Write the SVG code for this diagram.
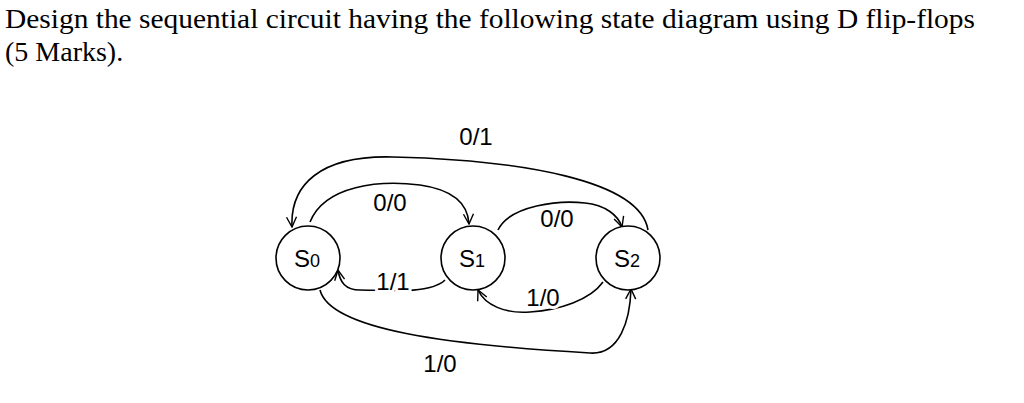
<svg xmlns="http://www.w3.org/2000/svg" width="1024" height="403" viewBox="0 0 1024 403">
<defs>
<marker id="a" viewBox="0 0 12 12" refX="11" refY="6" markerWidth="12" markerHeight="12" orient="auto" markerUnits="userSpaceOnUse">
<path d="M1,1 L11,6 L1,11" fill="none" stroke="#000" stroke-width="1.4"/>
</marker>
<style>
.e{fill:none;stroke:#000;stroke-width:1.6;marker-end:url(#a)}
.n{fill:#fff;stroke:#000;stroke-width:1.6}
.t{font-family:"Liberation Sans",Arial,sans-serif;font-size:24px;fill:#000}
.l{font-family:"Liberation Sans",Arial,sans-serif;font-size:24px;fill:#000;stroke:#fff;stroke-width:6;paint-order:stroke;text-anchor:middle}
.h{font-family:"Liberation Serif","Times New Roman",serif;font-size:28px;fill:#000}
</style>
</defs>
<rect width="1024" height="403" fill="#fff"/>
<text class="h" x="5" y="28" textLength="970" lengthAdjust="spacingAndGlyphs">Design the sequential circuit having the following state diagram using D flip-flops</text>
<text class="h" x="5" y="61">(5 Marks).</text>
<g id="edges">
<path class="e" d="M648,230 C640,180 520,160 393,157 C320,155 290,185 292,227"/>
<path class="e" d="M310,222 C325,185 380,180 420,185 C455,190 468,205 469,224"/>
<path class="e" d="M498,230 C510,205 560,200 585,203 C605,205 618,215 622,227"/>
<path class="e" d="M445,280 C430,295 380,290 360,290 C345,290 340,282 338,270"/>
<path class="e" d="M603,282 C590,300 560,310 530,312 C505,314 485,305 478,290"/>
<path class="e" d="M320,290 C330,330 450,345 590,353 C620,355 630,320 631,289"/>
<text class="l" x="476" y="145">0/1</text>
<text class="l" x="390" y="211">0/0</text>
<text class="l" x="557" y="227">0/0</text>
<text class="l" x="393" y="290">1/1</text>
<text class="l" x="543" y="306">1/0</text>
<text class="l" x="440" y="372">1/0</text>
</g>
<g id="S0"><circle class="n" cx="308" cy="258" r="32"/><text class="t" x="294" y="267">S<tspan font-size="18">0</tspan></text></g>
<g id="S1"><circle class="n" cx="473" cy="258" r="32"/><text class="t" x="459" y="267">S<tspan font-size="18">1</tspan></text></g>
<g id="S2"><circle class="n" cx="628" cy="258" r="32"/><text class="t" x="614" y="267">S<tspan font-size="18">2</tspan></text></g>
</svg>
